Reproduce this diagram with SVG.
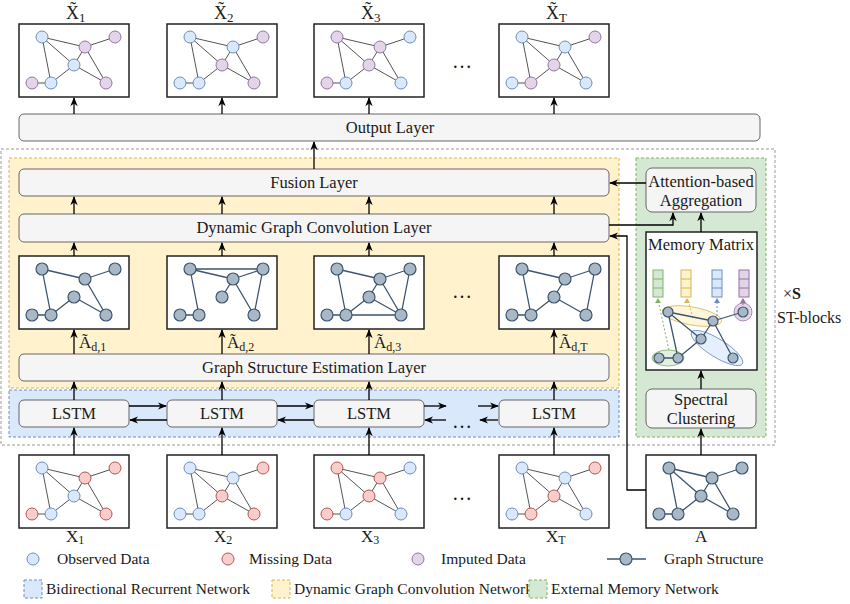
<svg xmlns="http://www.w3.org/2000/svg" xmlns:xlink="http://www.w3.org/1999/xlink" width="850" height="604" viewBox="0 0 850 604">
<style>
text{font-family:"Liberation Serif","Times New Roman",serif;fill:#1a1a1a}
.t{font-size:16.5px;text-anchor:middle}
.lg{font-size:15.5px}
.box{fill:#f5f5f5;stroke:#666;stroke-width:1}
.gb{fill:#fff;stroke:#222;stroke-width:1.5}
.e{stroke:#555;stroke-width:1;fill:none}
.de{stroke:#3d566e;stroke-width:1.3;fill:none}
.B{fill:#dae8fc;stroke:#6c8ebf}
.R{fill:#f8cecc;stroke:#b85450}
.P{fill:#e1d5e7;stroke:#9673a6}
.G{fill:#a9b8c7;stroke:#3d566e;stroke-width:1.2}
.c path{stroke:#000;stroke-width:1.3;fill:none;marker-end:url(#ar)}
.dots{font-size:20px;text-anchor:middle}
</style>
<defs>
<marker id="ar" viewBox="0 0 10 10" refX="9" refY="5" markerWidth="7" markerHeight="7" orient="auto"><path d="M0,1 L10,5 L0,9 L3,5 z" fill="#000"/></marker>
<g id="de"><path class="e" d="M23,13L66,23M23,13L55,41M23,13L32,59M96,13L66,23M66,23L55,41M66,23L87,59M55,41L32,59M55,41L87,59M32,59L13,59"/></g>
</defs>

<g id="regions">
<rect x="1" y="149" width="774" height="296" fill="#fff" stroke="#999" stroke-dasharray="3,2"/>
<rect x="9" y="158" width="610" height="230" fill="#fff2cc" stroke="#d6b656" stroke-dasharray="3,2"/>
<rect x="9" y="390" width="610" height="47" fill="#dae8fc" stroke="#6c8ebf" stroke-dasharray="3,2"/>
<rect x="636" y="158" width="130" height="279" fill="#d5e8d4" stroke="#82b366" stroke-dasharray="3,2"/>
</g>

<g id="out1" transform="translate(19,24)"><rect class="gb" width="110" height="73"/><use xlink:href="#de"/>
<circle class="B" cx="23" cy="13" r="6"/><circle class="P" cx="96" cy="13" r="6"/><circle class="P" cx="66" cy="23" r="6"/><circle class="B" cx="55" cy="41" r="6"/><circle class="B" cx="32" cy="59" r="6"/><circle class="P" cx="13" cy="59" r="6"/><circle class="P" cx="87" cy="59" r="6"/></g>
<g id="out2" transform="translate(167,24)"><rect class="gb" width="110" height="73"/><use xlink:href="#de"/>
<circle class="B" cx="23" cy="13" r="6"/><circle class="P" cx="96" cy="13" r="6"/><circle class="B" cx="66" cy="23" r="6"/><circle class="P" cx="55" cy="41" r="6"/><circle class="B" cx="32" cy="59" r="6"/><circle class="B" cx="13" cy="59" r="6"/><circle class="P" cx="87" cy="59" r="6"/></g>
<g id="out3" transform="translate(314,24)"><rect class="gb" width="110" height="73"/><use xlink:href="#de"/>
<circle class="P" cx="23" cy="13" r="6"/><circle class="B" cx="96" cy="13" r="6"/><circle class="P" cx="66" cy="23" r="6"/><circle class="P" cx="55" cy="41" r="6"/><circle class="B" cx="32" cy="59" r="6"/><circle class="P" cx="13" cy="59" r="6"/><circle class="B" cx="87" cy="59" r="6"/></g>
<g id="outT" transform="translate(499,24)"><rect class="gb" width="110" height="73"/><use xlink:href="#de"/>
<circle class="B" cx="23" cy="13" r="6"/><circle class="P" cx="96" cy="13" r="6"/><circle class="B" cx="66" cy="23" r="6"/><circle class="P" cx="55" cy="41" r="6"/><circle class="P" cx="32" cy="59" r="6"/><circle class="B" cx="13" cy="59" r="6"/><circle class="B" cx="87" cy="59" r="6"/></g>
<g id="outlabels">
<text x="66" y="19" font-size="18">X̃<tspan font-size="13" dy="3">1</tspan></text>
<text x="214" y="19" font-size="18">X̃<tspan font-size="13" dy="3">2</tspan></text>
<text x="361" y="19" font-size="18">X̃<tspan font-size="13" dy="3">3</tspan></text>
<text x="546" y="19" font-size="18">X̃<tspan font-size="13" dy="3">T</tspan></text>
<text class="dots" x="462" y="68">…</text>
</g>

<g id="outputLayer"><rect class="box" x="19" y="114" width="741" height="27" rx="5"/><text class="t" x="390" y="133">Output Layer</text></g>
<g id="fusion"><rect class="box" x="19" y="169" width="590" height="27" rx="5"/><text class="t" x="314" y="188">Fusion Layer</text></g>
<g id="dgc"><rect class="box" x="19" y="214" width="590" height="28" rx="5"/><text class="t" x="314" y="233">Dynamic Graph Convolution Layer</text></g>
<g id="gse"><rect class="box" x="19" y="354" width="590" height="27" rx="5"/><text class="t" x="314" y="373">Graph Structure Estimation Layer</text></g>

<g id="d1" transform="translate(19,256)"><rect class="gb" width="110" height="73"/>
<path class="de" d="M23,13L32,59M23,13L66,23M96,13L66,23M66,23L87,59M55,41L32,59M55,41L87,59M13,59L32,59"/>
<circle class="G" cx="23" cy="13" r="6"/><circle class="G" cx="96" cy="13" r="6"/><circle class="G" cx="66" cy="23" r="6"/><circle class="G" cx="55" cy="41" r="6"/><circle class="G" cx="32" cy="59" r="6"/><circle class="G" cx="13" cy="59" r="6"/><circle class="G" cx="87" cy="59" r="6"/></g>
<g id="d2" transform="translate(167,256)"><rect class="gb" width="110" height="73"/>
<path class="de" d="M23,13L96,13M23,13L66,23M23,13L32,59M96,13L66,23M66,23L87,59M96,13L87,59M66,23L55,41M13,59L32,59"/>
<circle class="G" cx="23" cy="13" r="6"/><circle class="G" cx="96" cy="13" r="6"/><circle class="G" cx="66" cy="23" r="6"/><circle class="G" cx="55" cy="41" r="6"/><circle class="G" cx="32" cy="59" r="6"/><circle class="G" cx="13" cy="59" r="6"/><circle class="G" cx="87" cy="59" r="6"/></g>
<g id="d3" transform="translate(314,256)"><rect class="gb" width="110" height="73"/>
<path class="de" d="M23,13L32,59M23,13L66,23M96,13L66,23M66,23L55,41M55,41L32,59M55,41L87,59M66,23L87,59M96,13L87,59M32,59L87,59M13,59L32,59"/>
<circle class="G" cx="23" cy="13" r="6"/><circle class="G" cx="96" cy="13" r="6"/><circle class="G" cx="66" cy="23" r="6"/><circle class="G" cx="55" cy="41" r="6"/><circle class="G" cx="32" cy="59" r="6"/><circle class="G" cx="13" cy="59" r="6"/><circle class="G" cx="87" cy="59" r="6"/></g>
<g id="dT" transform="translate(499,256)"><rect class="gb" width="110" height="73"/>
<path class="de" d="M23,13L66,23M23,13L32,59M96,13L66,23M96,13L87,59M66,23L55,41M55,41L32,59M55,41L87,59M13,59L32,59"/>
<circle class="G" cx="23" cy="13" r="6"/><circle class="G" cx="96" cy="13" r="6"/><circle class="G" cx="66" cy="23" r="6"/><circle class="G" cx="55" cy="41" r="6"/><circle class="G" cx="32" cy="59" r="6"/><circle class="G" cx="13" cy="59" r="6"/><circle class="G" cx="87" cy="59" r="6"/></g>
<g id="dlabels">
<text x="79" y="348" font-size="17">Ã<tspan font-size="12" dy="3">d,1</tspan></text>
<text x="227" y="348" font-size="17">Ã<tspan font-size="12" dy="3">d,2</tspan></text>
<text x="374" y="348" font-size="17">Ã<tspan font-size="12" dy="3">d,3</tspan></text>
<text x="559" y="348" font-size="17">Ã<tspan font-size="12" dy="3">d,T</tspan></text>
<text class="dots" x="462" y="298">…</text>
</g>

<g id="lstm1"><rect class="box" x="19" y="400" width="110" height="27" rx="5"/><text class="t" x="74" y="419">LSTM</text></g>
<g id="lstm2"><rect class="box" x="167" y="400" width="110" height="27" rx="5"/><text class="t" x="222" y="419">LSTM</text></g>
<g id="lstm3"><rect class="box" x="314" y="400" width="110" height="27" rx="5"/><text class="t" x="369" y="419">LSTM</text></g>
<g id="lstmT"><rect class="box" x="499" y="400" width="110" height="27" rx="5"/><text class="t" x="554" y="419">LSTM</text></g>
<text class="dots" x="462" y="428">…</text>

<g id="attention"><rect class="box" x="646" y="168" width="110" height="44" rx="6"/><text class="t" x="701" y="187">Attention-based</text><text class="t" x="701" y="206">Aggregation</text></g>
<g id="memory"><rect class="gb" x="646" y="232" width="111" height="138"/><text class="t" x="701" y="250">Memory Matrix</text>
<ellipse cx="692" cy="316" rx="30" ry="9" transform="rotate(10 692 316)" fill="#fff2cc" fill-opacity="0.7" stroke="#d6b656" stroke-width="0.8"/>
<ellipse cx="717" cy="348" rx="30" ry="9" transform="rotate(32 717 348)" fill="#dae8fc" fill-opacity="0.7" stroke="#6c8ebf" stroke-width="0.8"/>
<ellipse cx="668" cy="358" rx="16" ry="8" fill="#d5e8d4" fill-opacity="0.7" stroke="#82b366" stroke-width="0.8"/>
<circle cx="743" cy="312" r="9" fill="#e1d5e7" stroke="#9673a6" stroke-width="0.8"/>
<rect x="653" y="270" width="10" height="27" fill="#d5e8d4" stroke="#82b366"/><path d="M653,279h10M653,288h10" stroke="#82b366"/>
<rect x="681" y="270" width="10" height="27" fill="#fff2cc" stroke="#d6b656"/><path d="M681,279h10M681,288h10" stroke="#d6b656"/>
<rect x="712" y="270" width="10" height="27" fill="#dae8fc" stroke="#6c8ebf"/><path d="M712,279h10M712,288h10" stroke="#6c8ebf"/>
<rect x="739" y="270" width="10" height="27" fill="#e1d5e7" stroke="#9673a6"/><path d="M739,279h10M739,288h10" stroke="#9673a6"/>
<path d="M669,350L658,300" stroke="#82b366" stroke-dasharray="2,2" fill="none"/><path d="M658,298l-3,5h6z" fill="#82b366"/>
<path d="M693,318L688,300" stroke="#d6b656" stroke-dasharray="2,2" fill="none"/><path d="M687,298l-3,5h6z" fill="#d6b656"/>
<path d="M717,316L717,300" stroke="#6c8ebf" stroke-dasharray="2,2" fill="none"/><path d="M717,298l-3,5h6z" fill="#6c8ebf"/>
<path d="M743,305L743,300" stroke="#9673a6" fill="none"/><path d="M743,298l-3,5h6z" fill="#9673a6"/>
<path class="de" d="M668,312L713,321M668,312L701,339M668,312L678,358M713,321L743,312M713,321L701,339M713,321L733,358M701,339L678,358M659,358L678,358"/>
<circle class="G" cx="668" cy="312" r="5"/><circle class="G" cx="713" cy="321" r="5"/><circle class="G" cx="743" cy="312" r="5"/><circle class="G" cx="701" cy="339" r="5"/><circle class="G" cx="659" cy="358" r="5"/><circle class="G" cx="678" cy="358" r="5"/><circle class="G" cx="733" cy="358" r="5"/>
</g>
<g id="spectral"><rect class="box" x="646" y="389" width="110" height="39" rx="6"/><text class="t" x="701" y="405">Spectral</text><text class="t" x="701" y="424">Clustering</text></g>
<g id="blocks"><text x="783" y="299" font-size="16">×<tspan font-weight="bold">S</tspan></text><text x="777" y="323" font-size="16">ST-blocks</text></g>

<g id="in1" transform="translate(19,455)"><rect class="gb" width="110" height="73"/><use xlink:href="#de"/>
<circle class="B" cx="23" cy="13" r="6"/><circle class="R" cx="96" cy="13" r="6"/><circle class="R" cx="66" cy="23" r="6"/><circle class="B" cx="55" cy="41" r="6"/><circle class="B" cx="32" cy="59" r="6"/><circle class="R" cx="13" cy="59" r="6"/><circle class="R" cx="87" cy="59" r="6"/></g>
<g id="in2" transform="translate(167,455)"><rect class="gb" width="110" height="73"/><use xlink:href="#de"/>
<circle class="B" cx="23" cy="13" r="6"/><circle class="R" cx="96" cy="13" r="6"/><circle class="B" cx="66" cy="23" r="6"/><circle class="R" cx="55" cy="41" r="6"/><circle class="B" cx="32" cy="59" r="6"/><circle class="B" cx="13" cy="59" r="6"/><circle class="R" cx="87" cy="59" r="6"/></g>
<g id="in3" transform="translate(314,455)"><rect class="gb" width="110" height="73"/><use xlink:href="#de"/>
<circle class="R" cx="23" cy="13" r="6"/><circle class="B" cx="96" cy="13" r="6"/><circle class="R" cx="66" cy="23" r="6"/><circle class="R" cx="55" cy="41" r="6"/><circle class="B" cx="32" cy="59" r="6"/><circle class="R" cx="13" cy="59" r="6"/><circle class="B" cx="87" cy="59" r="6"/></g>
<g id="inT" transform="translate(499,455)"><rect class="gb" width="110" height="73"/><use xlink:href="#de"/>
<circle class="B" cx="23" cy="13" r="6"/><circle class="R" cx="96" cy="13" r="6"/><circle class="B" cx="66" cy="23" r="6"/><circle class="R" cx="55" cy="41" r="6"/><circle class="R" cx="32" cy="59" r="6"/><circle class="B" cx="13" cy="59" r="6"/><circle class="B" cx="87" cy="59" r="6"/></g>
<g id="inA" transform="translate(646,455)"><rect class="gb" width="110" height="73"/>
<path class="de" d="M23,13L66,23M23,13L55,41M23,13L32,59M96,13L66,23M66,23L55,41M66,23L87,59M55,41L32,59M55,41L87,59M32,59L13,59"/>
<circle class="G" cx="23" cy="13" r="6"/><circle class="G" cx="96" cy="13" r="6"/><circle class="G" cx="66" cy="23" r="6"/><circle class="G" cx="55" cy="41" r="6"/><circle class="G" cx="32" cy="59" r="6"/><circle class="G" cx="13" cy="59" r="6"/><circle class="G" cx="87" cy="59" r="6"/></g>
<g id="inlabels">
<text x="66" y="542" font-size="17">X<tspan font-size="12" dy="2">1</tspan></text>
<text x="214" y="542" font-size="17">X<tspan font-size="12" dy="2">2</tspan></text>
<text x="361" y="542" font-size="17">X<tspan font-size="12" dy="2">3</tspan></text>
<text x="546" y="542" font-size="17">X<tspan font-size="12" dy="2">T</tspan></text>
<text x="695" y="542" font-size="17">A</text>
<text class="dots" x="462" y="500">…</text>
</g>

<g id="connectors" class="c">
<path d="M74,114V98"/><path d="M222,114V98"/><path d="M369,114V98"/><path d="M554,114V98"/>
<path d="M314,169V142"/>
<path d="M74,214V197"/><path d="M222,214V197"/><path d="M369,214V197"/><path d="M554,214V197"/>
<path d="M74,256V243"/><path d="M222,256V243"/><path d="M369,256V243"/><path d="M554,256V243"/>
<path d="M74,354V330"/><path d="M222,354V330"/><path d="M369,354V330"/><path d="M554,354V330"/>
<path d="M74,400V382"/><path d="M222,400V382"/><path d="M369,400V382"/><path d="M554,400V382"/>
<path d="M74,455V428"/><path d="M222,455V428"/><path d="M369,455V428"/><path d="M554,455V428"/>
<path d="M129,406H166"/><path d="M277,406H313"/><path d="M424,406H446"/><path d="M478,406H498"/>
<path d="M167,420H130"/><path d="M314,420H278"/><path d="M446,420H425"/><path d="M498,420H480"/>
<path d="M646,183H610"/>
<path d="M609,225H673V213"/>
<path d="M701,232V213"/>
<path d="M646,490H627V236H610"/>
<path d="M701,389V371"/>
<path d="M701,455V429"/>
</g>

<g id="legend">
<circle class="B" cx="33" cy="559" r="6"/><text class="lg" x="57" y="564">Observed Data</text>
<circle class="R" cx="228" cy="559" r="6"/><text class="lg" x="249" y="564">Missing Data</text>
<circle class="P" cx="418" cy="559" r="6"/><text class="lg" x="441" y="564">Imputed Data</text>
<path d="M607,559H646" stroke="#3d566e" stroke-width="1.3"/><circle class="G" cx="626" cy="559" r="6"/><text class="lg" x="664" y="564">Graph Structure</text>
<rect x="24" y="580" width="18" height="18" fill="#dae8fc" stroke="#6c8ebf" stroke-dasharray="3,2"/><text class="lg" x="46" y="594">Bidirectional Recurrent Network</text>
<rect x="272" y="580" width="18" height="18" fill="#fff2cc" stroke="#d6b656" stroke-dasharray="3,2"/><text class="lg" x="294" y="594">Dynamic Graph Convolution Network</text>
<rect x="529" y="580" width="18" height="18" fill="#d5e8d4" stroke="#82b366" stroke-dasharray="3,2"/><text class="lg" x="551" y="594">External Memory Network</text>
</g>
</svg>
